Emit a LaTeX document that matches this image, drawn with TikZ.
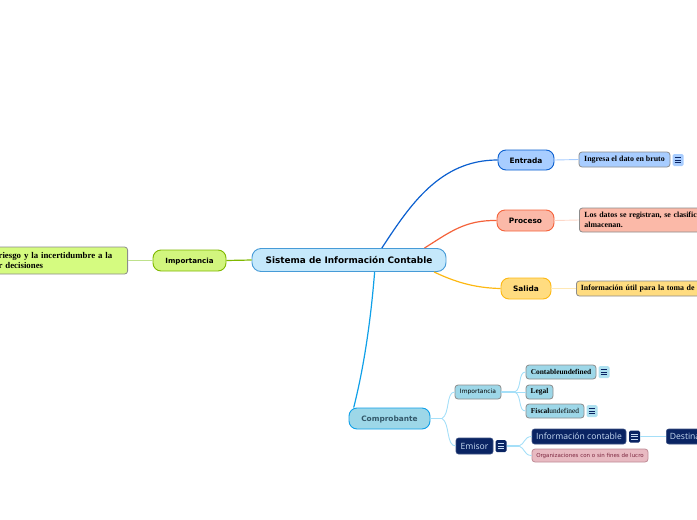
\documentclass[tikz,border=0pt]{standalone}
\usepackage{fontspec}
\setmainfont{Liberation Serif}
\newfontfamily\wideface{DejaVu Sans}
\newfontfamily\plainface{Open Sans}
\definecolor{navy}{HTML}{0A2463}
\definecolor{navytext}{HTML}{C9DDF5}
\definecolor{skyline}{HTML}{A5DFF8}
\tikzset{
  topic/.style={draw, line width=0.9pt, rounded corners=8pt, font=\wideface\bfseries\fontsize{7.4}{10}\selectfont, inner sep=0pt, text height=6.5pt, text depth=0.5pt},
  leaf/.style={draw=black!45, line width=0.8pt, rounded corners=3pt, font=\bfseries\fontsize{7.9}{9.6}\selectfont, inner sep=0pt},
  dark/.style={draw=navy!80!white, fill=navy, text=navytext, line width=0.6pt, rounded corners=2.5pt, font=\plainface\fontsize{8.6}{10}\selectfont, inner sep=0pt},
  iconbox/.style={rounded corners=1.5pt, minimum width=11pt, minimum height=12pt, inner sep=0pt},
  twig/.style={skyline, line width=0.9pt}
}
\newcommand{\menuicon}[5]{%
  \node[iconbox, fill=#4] (#1) at (#2,#3) {};
  \foreach \i in {-2.6,0,2.6} {
    \draw[#5, line width=0.7pt] ([xshift=-3.4pt,yshift=\i pt]#1.center) -- ([xshift=3.4pt,yshift=\i pt]#1.center);
  }
}
\begin{document}
\begin{tikzpicture}[x=1pt,y=-1pt]
  \useasboundingbox (0,0) rectangle (697,520);

  % main topics
  \node[topic, fill={rgb,255:red,197;green,232;blue,251}, draw={rgb,255:red,70;green,155;blue,215}, minimum width=194pt, minimum height=23pt, font=\wideface\bfseries\fontsize{8.9}{10}\selectfont, rounded corners=9pt] (sistema) at (349,260) {Sistema de Información Contable};
  \node[topic, fill={rgb,255:red,168;green,205;blue,255}, draw={rgb,255:red,11;green,95;blue,207}, minimum width=56pt, minimum height=20pt] (entrada) at (526,160) {Entrada};
  \node[topic, fill={rgb,255:red,251;green,185;blue,168}, draw={rgb,255:red,244;green,98;blue,58}, minimum width=57pt, minimum height=21pt] (proceso) at (525.5,220.5) {Proceso};
  \node[topic, fill={rgb,255:red,255;green,220;blue,128}, draw={rgb,255:red,253;green,184;blue,19}, minimum width=50pt, minimum height=21pt] (salida) at (526,288.5) {Salida};
  \node[topic, fill={rgb,255:red,210;green,245;blue,126}, draw={rgb,255:red,127;green,184;blue,0}, minimum width=73pt, minimum height=21pt, font=\wideface\bfseries\fontsize{7.1}{10}\selectfont] (importancia) at (189.5,260.5) {Importancia};
  \node[topic, fill={rgb,255:red,157;green,215;blue,232}, draw={rgb,255:red,15;green,160;blue,232}, text={rgb,255:red,51;green,88;blue,106}, minimum width=81pt, minimum height=21pt] (comprobante) at (389.5,418.5) {Comprobante};

  % leaves to the right, cut by the page
  \node[leaf, fill={rgb,255:red,168;green,205;blue,255}, minimum width=91pt, minimum height=15pt] (ingresa) at (624.5,159.5) {Ingresa el dato en bruto};
  \menuicon{ingresamenu}{678}{160}{{rgb,255:red,168;green,205;blue,255}}{navy}
  \node[leaf, fill={rgb,255:red,251;green,185;blue,168}, align=left, text width=140pt, inner xsep=5pt, minimum height=24pt, anchor=west] (datos) at (579,220) {Los datos se registran, se clasifica\\almacenan.};
  \node[leaf, fill={rgb,255:red,255;green,220;blue,128}, align=left, text width=140pt, inner xsep=4.5pt, minimum height=15pt, anchor=west] (util) at (576,288.5) {Información útil para la toma de d};
  \node[leaf, fill={rgb,255:red,213;green,251;blue,128}, align=left, text width=114pt, inner xsep=15pt, minimum height=27pt, anchor=east, font=\bfseries\fontsize{8.8}{10}\selectfont] (riesgo) at (128,260.5) {riesgo y la incertidumbre a la\\r decisiones};

  % comprobante branch
  \node[leaf, fill={rgb,255:red,157;green,215;blue,232}, minimum width=46pt, minimum height=14pt, font=\wideface\fontsize{6}{7}\selectfont] (subimportancia) at (478,392) {Importancia};
  \node[leaf, fill={rgb,255:red,157;green,215;blue,232}, minimum width=70pt, minimum height=14pt, font=\bfseries\fontsize{7.4}{9}\selectfont] (contable) at (561,372) {Contableundefined};
  \menuicon{contablemenu}{604}{372}{{rgb,255:red,175;green,225;blue,240}}{navy}
  \node[leaf, fill={rgb,255:red,157;green,215;blue,232}, minimum width=27pt, minimum height=14pt, font=\bfseries\fontsize{7.4}{9}\selectfont] (legal) at (539.5,392) {Legal};
  \node[leaf, fill={rgb,255:red,157;green,215;blue,232}, minimum width=58pt, minimum height=14pt, font=\bfseries\fontsize{7.4}{9}\selectfont] (fiscal) at (555,411) {Fiscal\mdseries undefined};
  \menuicon{fiscalmenu}{592}{411}{{rgb,255:red,175;green,225;blue,240}}{navy}
  \node[dark, minimum width=37pt, minimum height=16pt] (emisor) at (474.5,446) {Emisor};
  \menuicon{emisormenu}{501}{446}{navy}{navytext}
  \node[dark, minimum width=94pt, minimum height=15pt] (informacion) at (579,436.5) {Información contable};
  \menuicon{informacionmenu}{634.5}{436.5}{navy}{navytext}
  \node[dark, text width=40pt, inner xsep=3.5pt, minimum height=15pt, anchor=west] (destina) at (666,436.5) {Destina};
  \node[leaf, draw={rgb,255:red,190;green,140;blue,150}, fill={rgb,255:red,232;green,186;blue,194}, text={rgb,255:red,125;green,40;blue,65}, minimum width=116pt, minimum height=13pt, font=\wideface\fontsize{5.5}{7}\selectfont] (organizaciones) at (590,455.5) {Organizaciones con o sin fines de lucro};

  % main connectors
  \draw[line width=1.2pt, draw={rgb,255:red,11;green,95;blue,207}] (sistema.20) .. controls (410,205) and (440,160) .. (entrada.west);
  \draw[line width=1.2pt, draw={rgb,255:red,244;green,98;blue,58}] (sistema.9) .. controls (450,232) and (465,220) .. (proceso.west);
  \draw[line width=1.2pt, draw={rgb,255:red,253;green,184;blue,19}] (sistema.-8) .. controls (455,282) and (475,288) .. (salida.west);
  \draw[line width=1.2pt, draw={rgb,255:red,15;green,160;blue,232}] (sistema.-25) .. controls (370,330) and (362,375) .. (comprobante.163);
  \draw[line width=1.2pt, draw={rgb,255:red,127;green,184;blue,0}] (sistema.west) -- (importancia.east);
  \draw[line width=0.9pt, draw={rgb,255:red,190;green,225;blue,140}] (importancia.west) -- (riesgo.east);
  \draw[line width=0.9pt, draw={rgb,255:red,168;green,205;blue,255}] (entrada.east) -- (ingresa.west);
  \draw[line width=0.9pt, draw={rgb,255:red,253;green,215;blue,200}] (proceso.east) -- (datos.west);
  \draw[line width=0.9pt, draw={rgb,255:red,255;green,232;blue,180}] (salida.east) -- (util.west);

  % twigs
  \coordinate (tcomprobante) at (442,418.5);
  \coordinate (timportancia) at (515,392);
  \coordinate (temisor) at (519,446);
  \draw[twig, line width=1.4pt] (comprobante.east) -- (tcomprobante);
  \draw[twig] (tcomprobante) .. controls (450,414) and (446,392) .. (subimportancia.west);
  \draw[twig] (tcomprobante) .. controls (450,423) and (446,446) .. (emisor.west);
  \draw[twig, line width=1.4pt] (subimportancia.east) -- (timportancia);
  \draw[twig] (timportancia) .. controls (522,388) and (518,372) .. (contable.west);
  \draw[twig] (timportancia) -- (legal.west);
  \draw[twig] (timportancia) .. controls (522,396) and (518,411) .. (fiscal.west);
  \draw[twig, line width=1.4pt] (emisormenu.east) -- (temisor);
  \draw[twig] (temisor) .. controls (525,444) and (524,436.5) .. (informacion.west);
  \draw[twig] (temisor) .. controls (525,448) and (524,455.5) .. (organizaciones.west);
  \draw[twig] (informacionmenu.east) -- (destina.west);
\end{tikzpicture}
\end{document}
